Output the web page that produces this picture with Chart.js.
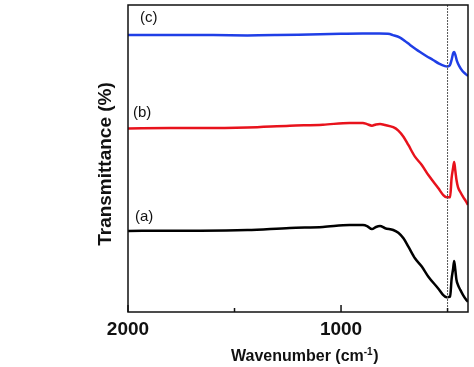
<!DOCTYPE html>
<html>
<head>
<meta charset="utf-8">
<script src="https://cdn.jsdelivr.net/npm/chart.js@4/dist/chart.umd.min.js"></script>
<style>
  html, body { margin: 0; padding: 0; background: #fff; }
  canvas { display: block; }
</style>
</head>
<body>
<canvas id="grafico" width="474" height="367"></canvas>
<script>
"use strict";

/* ── DADOS ─────────────────────────────── */
// wavenumber (cm-1) and transmittance (offset, arbitrary %)
const ondaC = [2000, 1800, 1600, 1440, 1300, 1150, 1000, 900, 820, 780, 756, 723, 700, 676, 650, 629, 600, 568, 540, 512, 500, 490, 480, 474, 469, 463, 456, 445, 430, 415, 404];
const serieC = [90.2, 90.2, 90.2, 90.1, 90.2, 90.4, 90.6, 90.7, 90.7, 90.6, 90.2, 89.4, 88.3, 87.0, 85.7, 84.7, 83.4, 82.1, 80.9, 80.1, 80.0, 80.3, 82.4, 84.2, 84.7, 83.7, 81.8, 80.1, 78.5, 77.5, 76.9];

const ondaB = [2000, 1800, 1660, 1440, 1240, 1085, 960, 897, 878, 855, 836, 817, 793, 755, 731, 707, 684, 653, 621, 590, 543, 520, 504, 488, 481, 474, 469, 464, 458, 451, 440, 427, 415, 404];
const serieB = [59.8, 59.9, 59.9, 60.1, 60.7, 61.0, 61.6, 61.6, 61.2, 60.7, 61.1, 61.2, 60.9, 60.2, 59.1, 57.1, 54.4, 50.6, 47.9, 44.6, 40.3, 38.1, 37.4, 37.4, 43.6, 46.9, 48.9, 46.3, 43.0, 40.7, 39.1, 37.5, 36.2, 34.9];

const ondaA = [2000, 1800, 1660, 1440, 1240, 1085, 960, 897, 878, 855, 836, 817, 793, 755, 731, 707, 684, 653, 621, 590, 543, 520, 504, 488, 481, 474, 469, 464, 458, 451, 440, 427, 415, 404];
const serieA = [26.4, 26.5, 26.5, 26.7, 27.4, 27.7, 28.3, 28.3, 28.0, 27.0, 27.7, 28.0, 27.3, 26.7, 25.8, 24.0, 21.3, 17.5, 14.8, 11.5, 7.6, 5.5, 4.8, 5.0, 10.7, 14.0, 16.6, 14.0, 10.4, 8.8, 7.2, 5.5, 4.2, 3.3];

const rotulos = ["(a)", "(b)", "(c)"];
const rotuloX = [1967, 1977, 1944];
const rotuloY = [30.9, 64.8, 95.8];

const ticksX = [2000, 1500, 1000, 500];
const ticksComTexto = [2000, 1000];
const linhaRef = 500;

const FONTE = "'Liberation Sans', Arial, sans-serif";

const pontos = (xs, ys) => xs.map((x, i) => ({ x, y: ys[i] }));

/* ── PLUGIN: moldura, ticks internos, rótulos ── */
const extras = {
  id: "extras",
  afterDatasetsDraw(chart) {
    const { ctx, chartArea: a, scales: { x, y } } = chart;
    ctx.save();

    // reference line
    const xr = x.getPixelForValue(linhaRef);
    ctx.strokeStyle = "#555";
    ctx.lineWidth = 1;
    ctx.setLineDash([2, 1]);
    ctx.beginPath();
    ctx.moveTo(xr, a.top);
    ctx.lineTo(xr, a.bottom);
    ctx.stroke();
    ctx.setLineDash([]);

    // frame
    ctx.strokeStyle = "#111";
    ctx.lineWidth = 1.5;
    ctx.strokeRect(a.left, a.top, a.right - a.left, a.bottom - a.top);

    // inward ticks
    ticksX.forEach(v => {
      const px = x.getPixelForValue(v);
      const len = ticksComTexto.includes(v) ? 7 : 4;
      ctx.beginPath();
      ctx.moveTo(px, a.bottom);
      ctx.lineTo(px, a.bottom - len);
      ctx.stroke();
    });

    // curve labels
    ctx.fillStyle = "#111";
    ctx.font = "15px " + FONTE;
    ctx.textAlign = "left";
    ctx.textBaseline = "middle";
    rotulos.forEach((t, i) => {
      ctx.fillText(t, x.getPixelForValue(rotuloX[i]), y.getPixelForValue(rotuloY[i]));
    });

    // x title with superscript
    ctx.textBaseline = "alphabetic";
    const fPrin = "bold 16px " + FONTE;
    const fSup = "bold 10px " + FONTE;
    const p1 = "Wavenumber (cm", sup = "-1", p2 = ")";
    ctx.font = fPrin;
    const w1 = ctx.measureText(p1).width, w3 = ctx.measureText(p2).width;
    ctx.font = fSup;
    const w2 = ctx.measureText(sup).width;
    let cx = 304.5 - (w1 + w2 + w3) / 2;
    const base = 361;
    ctx.font = fPrin;
    ctx.fillText(p1, cx, base);
    cx += w1;
    ctx.font = fSup;
    ctx.fillText(sup, cx, base - 6);
    cx += w2 + 0.5;
    ctx.font = fPrin;
    ctx.fillText(p2, cx, base);

    // y title
    ctx.font = "bold 19px " + FONTE;
    ctx.textAlign = "center";
    ctx.textBaseline = "middle";
    ctx.translate(106, 164);
    ctx.rotate(-Math.PI / 2);
    ctx.fillText("Transmittance (%)", 0, 0);

    ctx.restore();
  }
};

/* ── GRÁFICO ───────────────────────────── */
const serie = (label, xs, ys, cor) => ({
  label,
  data: pontos(xs, ys),
  borderColor: cor,
  borderWidth: 2.5,
  pointRadius: 0,
  fill: false,
  cubicInterpolationMode: "monotone"
});

new Chart(document.getElementById("grafico").getContext("2d"), {
  type: "line",
  data: {
    datasets: [
      serie("(c)", ondaC, serieC, "#1f3ee6"),
      serie("(b)", ondaB, serieB, "#e8121c"),
      serie("(a)", ondaA, serieA, "#000000")
    ]
  },
  options: {
    responsive: false,
    animation: false,
    devicePixelRatio: 1,
    layout: { padding: { left: 0, right: 6, top: 5, bottom: 0 } },
    plugins: { legend: { display: false }, tooltip: { enabled: false } },
    scales: {
      x: {
        type: "linear",
        reverse: true,
        min: 404,
        max: 2000,
        grid: { display: false },
        border: { display: false },
        afterBuildTicks: s => { s.ticks = ticksX.map(v => ({ value: v })); },
        afterFit: s => { s.height = 55; },
        ticks: {
          autoSkip: false,
          maxRotation: 0,
          padding: -2,
          color: "#111",
          font: { family: FONTE, size: 19, weight: "bold" },
          callback: v => ticksComTexto.includes(v) ? String(v) : ""
        }
      },
      y: {
        min: 0,
        max: 100,
        grid: { display: false },
        border: { display: false },
        ticks: { display: false },
        afterFit: s => { s.width = 128; }
      }
    }
  },
  plugins: [extras]
});
</script>
</body>
</html>
